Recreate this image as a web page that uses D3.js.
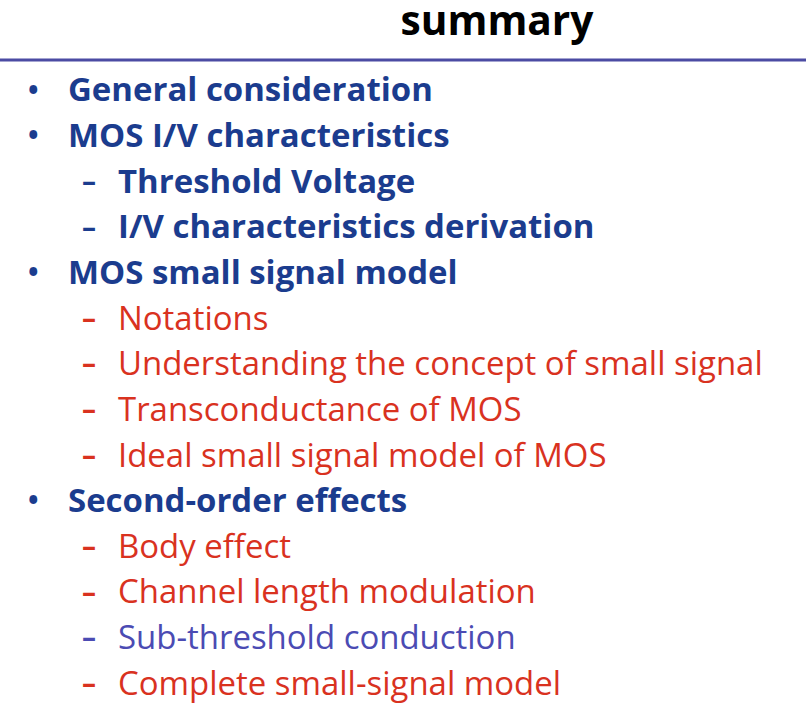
<!DOCTYPE html>
<html><head><meta charset="utf-8">
<script src="https://cdn.jsdelivr.net/npm/d3@7"></script>
<style>body{margin:0;background:#fff}</style></head>
<body><script>
// slide content
const itemTexts = ["General consideration","MOS I/V characteristics","Threshold Voltage","I/V characteristics derivation","MOS small signal model","Notations","Understanding the concept of small signal","Transconductance of MOS","Ideal small signal model of MOS","Second-order effects","Body effect","Channel length modulation","Sub-threshold conduction","Complete small-signal model"];
const itemLevels = [1,1,2,2,1,2,2,2,2,1,2,2,2,2];
const itemKinds = ["b","b","b","b","b","r","r","r","r","b","r","r","p","r"];

const W = 806, H = 721;
const font = "'Open Sans', Lato, sans-serif";
const color = {b:"#1b3c8e", r:"#d9321f", p:"#4b4bb3"};
const svg = d3.select("body").append("svg").attr("width", W).attr("height", H);

const y = d3.scaleBand().domain(d3.range(itemTexts.length)).range([67, 706]);

let title = svg.append("text").attr("x", 497).attr("y", 35).attr("text-anchor", "middle")
    .style("font-family", font).style("font-weight", "bold").style("font-size", "36px")
    .text("summary");
// fit title width to ~193px
title.style("font-size", (36 * 193 / title.node().getComputedTextLength()) + "px");

svg.append("line").attr("x1", 0).attr("x2", W).attr("y1", 60).attr("y2", 60)
    .style("stroke", "#4b4ba3").style("stroke-width", 3);

let rows = svg.selectAll("g.row").data(itemTexts).enter().append("g")
    .attr("transform", (d, i) => "translate(0," + (y(i) + y.bandwidth() / 2) + ")");

rows.append("text")
    .attr("x", (d, i) => itemLevels[i] == 1 ? 28 : 82)
    .attr("dy", "0.35em")
    .style("font-family", font).style("font-size", "28px")
    .style("font-weight", "bold")
    .style("fill", (d, i) => color[itemKinds[i]])
    .text((d, i) => itemLevels[i] == 1 ? "•" : "–");

let labels = rows.append("text")
    .attr("x", (d, i) => itemLevels[i] == 1 ? 68 : 118)
    .attr("dy", "0.35em")
    .style("font-family", font).style("font-size", "28px")
    .style("font-weight", (d, i) => itemKinds[i] == "b" ? "bold" : "normal")
    .style("fill", (d, i) => color[itemKinds[i]])
    .text(d => d);

// scale so the longest line spans ~645px like the slide
let len = labels.filter((d, i) => i == 6).node().getComputedTextLength();
labels.style("font-size", (28 * 645 / len) + "px");
</script></body></html>
